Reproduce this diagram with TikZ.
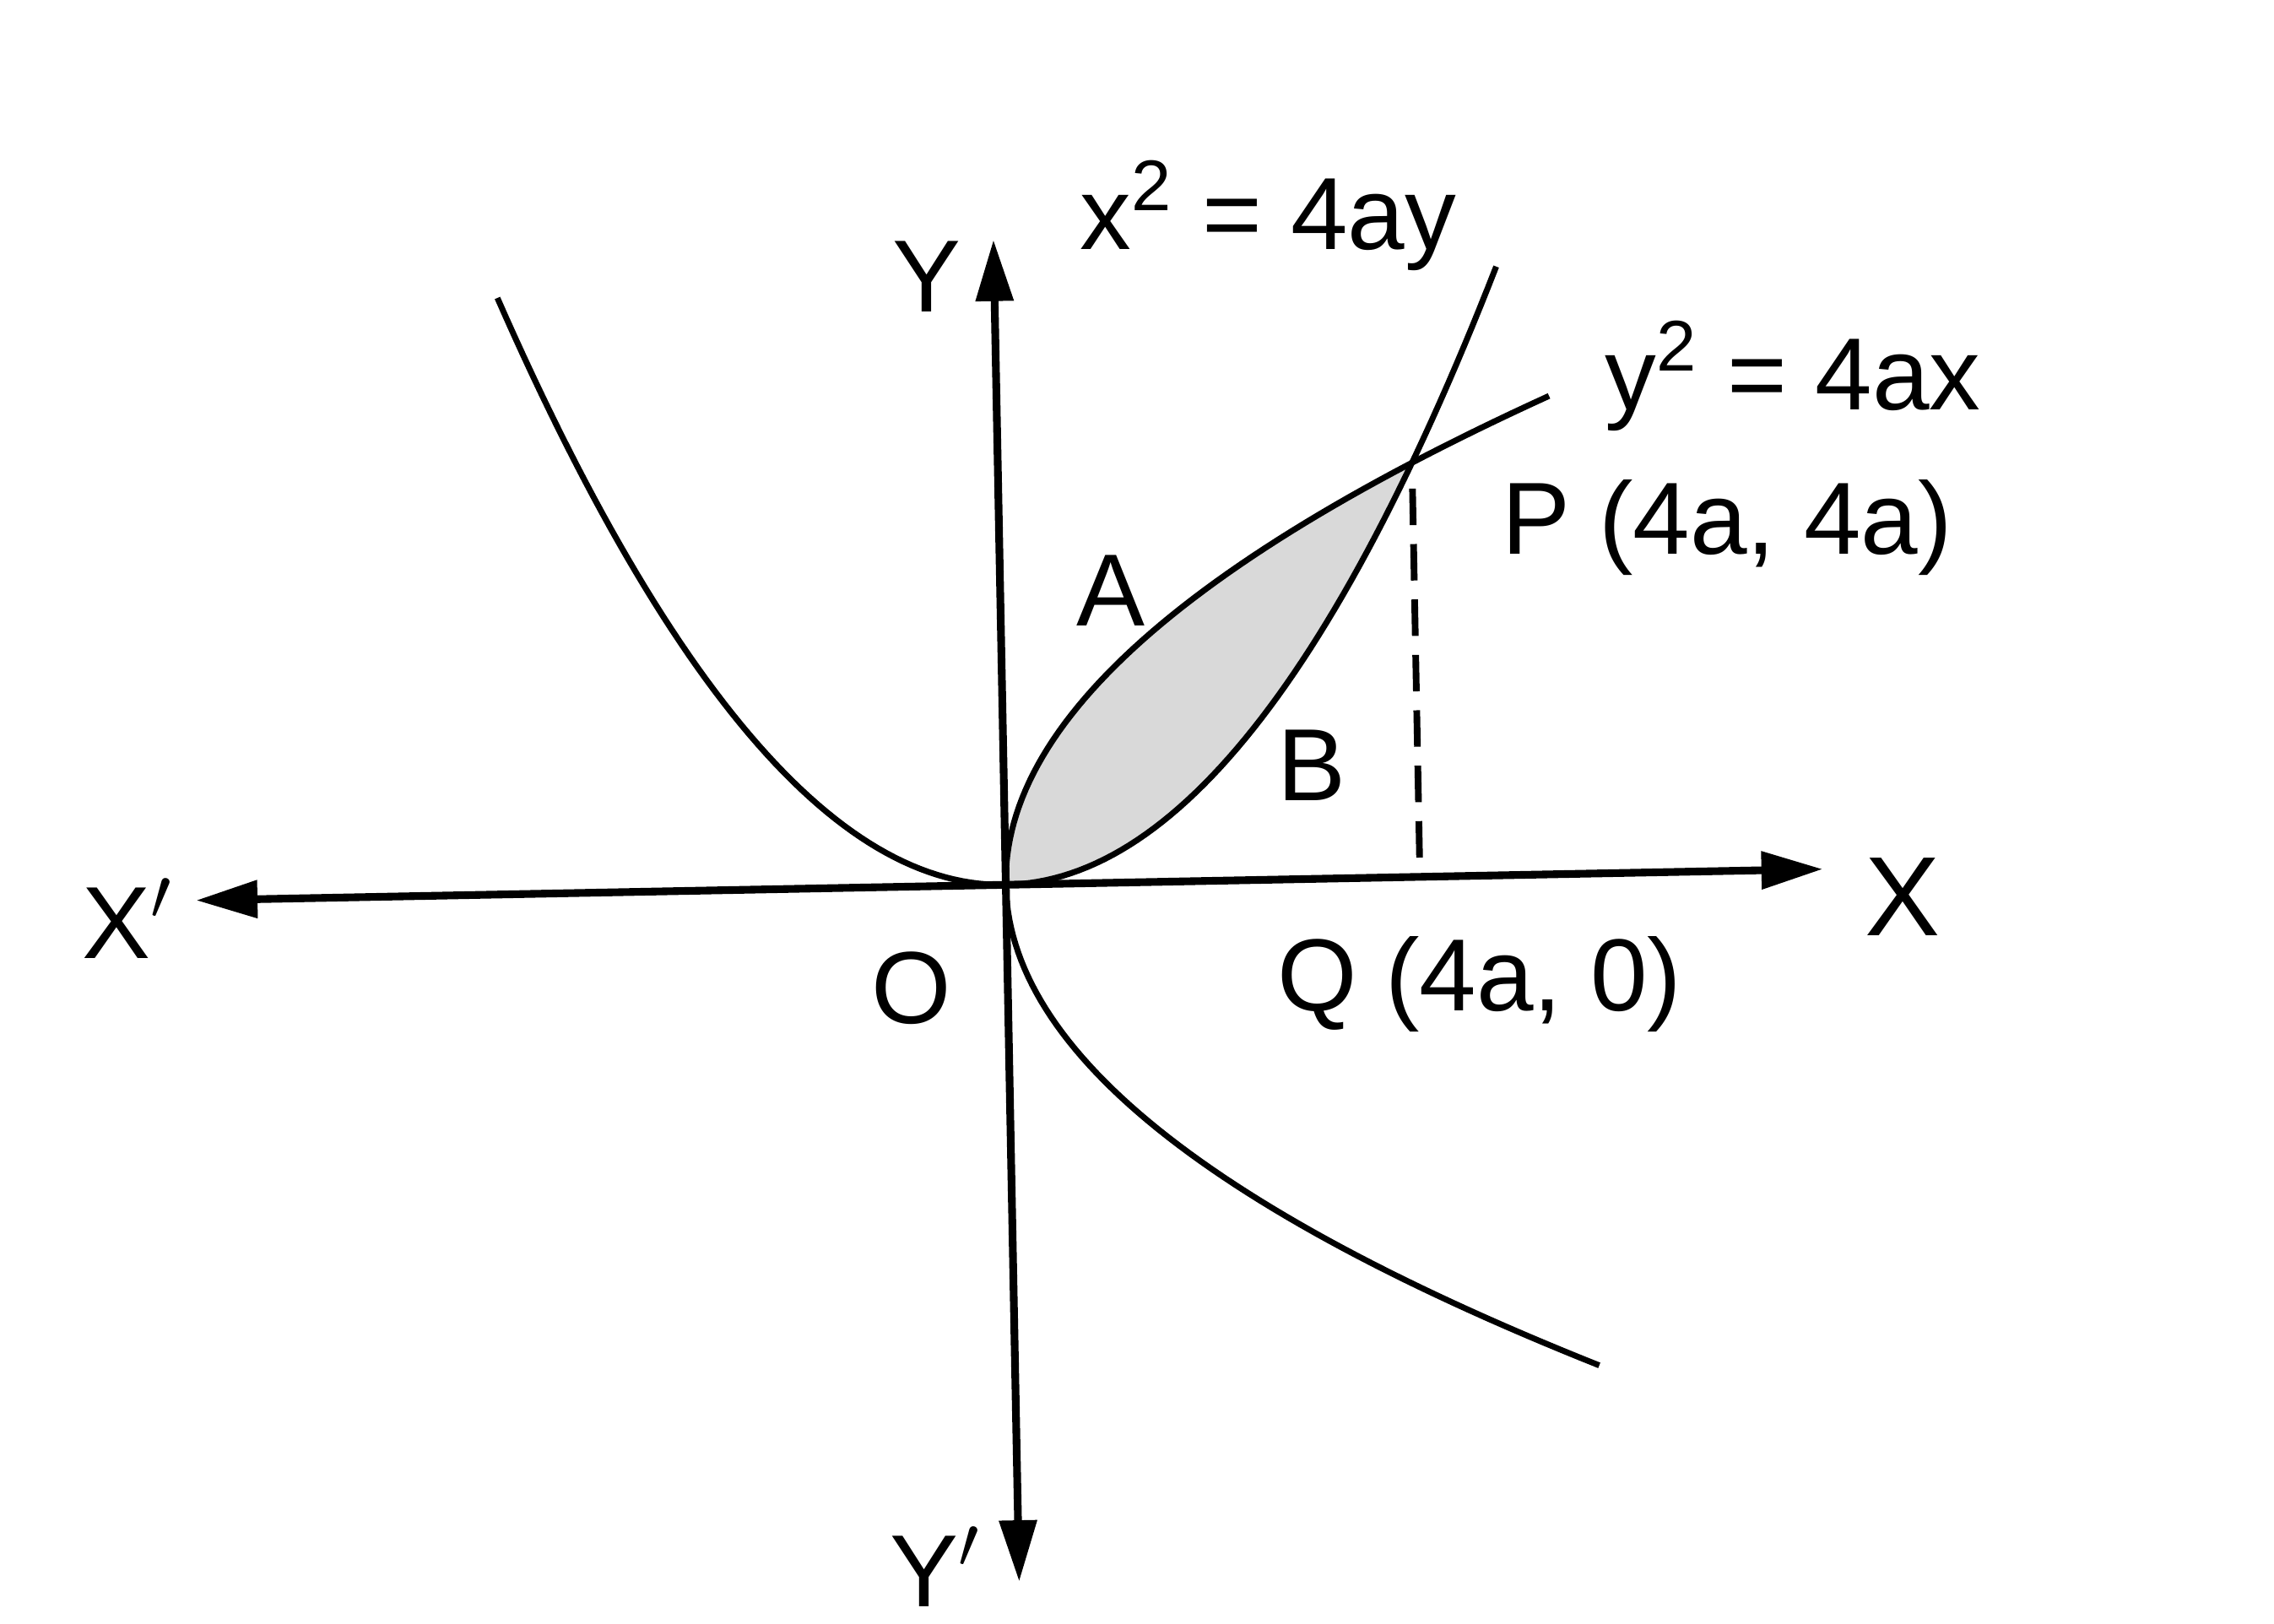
\documentclass[tikz,border=0pt]{standalone}
\usepackage{fontspec}
\setmainfont{Liberation Sans}
\usetikzlibrary{arrows.meta}
\begin{document}
\begin{tikzpicture}[x=0.01cm,y=0.01cm,
  lbl/.style={font=\fontsize{20}{24}\selectfont, inner sep=0pt},
  big/.style={font=\fontsize{22}{26}\selectfont, inner sep=0pt},
  axis/.style={line width=1.5pt, {Triangle[length=0.42cm,width=0.25cm]}-{Triangle[length=0.42cm,width=0.25cm]}},
  curve/.style={line width=1.15pt},
  ]
\useasboundingbox (0,0) rectangle (1560,1114);
\begin{scope}[shift={(690,507)}, rotate=1.1, x=0.71cm, y=0.71cm]
  \coordinate (O) at (0,0);
  \coordinate (P) at (4,4);
  \coordinate (Q) at (4,0);
  \coordinate (Pd) at (4,3.75);
  \coordinate (xl) at (-7.82,0);
  \coordinate (xr) at (7.89,0);
  \coordinate (yt) at (0,6.23);
  \coordinate (yb) at (0,-6.73);
  \fill[gray!30] plot[domain=0:4, samples=80] ({\x*\x/4},\x) -- plot[domain=4:0, samples=80] (\x,{\x*\x/4}) -- cycle;
  \draw[curve] plot[domain=-4.8:4.85, samples=120] (\x,{\x*\x/4});
  \draw[curve] plot[domain=-4.75:4.62, samples=120] ({\x*\x/4},\x);
  \draw[line width=1.3pt, dash pattern=on 0.25cm off 0.13cm] (Pd) -- (Q);
  \draw[axis] (xl) -- (xr);
  \draw[axis] (yb) -- (yt);
\end{scope}
\node[lbl] (l1) at (870,966) {x\textsuperscript{2} = 4ay};
\node[lbl] (lY) at (636,924) {Y};
\node[lbl] (l2) at (1230,856) {y\textsuperscript{2} = 4ax};
\node[lbl] (lP) at (1185,752) {P (4a, 4a)};
\node[lbl] (lA) at (762,709) {A};
\node[lbl] (lB) at (900,589) {B};
\node[big] (lX) at (1305,499) {X};
\node[lbl] (lXp) at (88,484) {X$'$};
\node[lbl] (lO) at (625,436) {O};
\node[lbl] (lQ) at (1015,439) {Q (4a, 0)};
\node[lbl] (lYp) at (642,39) {Y$'$};
\end{tikzpicture}
\end{document}
